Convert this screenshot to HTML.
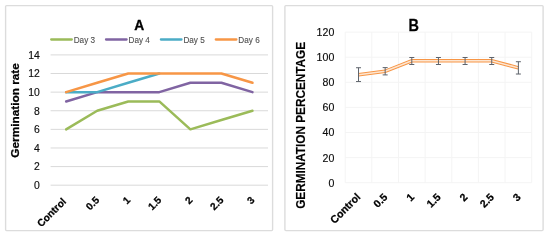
<!DOCTYPE html>
<html><head><meta charset="utf-8"><title>Germination charts</title>
<style>
html,body{margin:0;padding:0;background:#fff;}
body{width:550px;height:240px;overflow:hidden;}
svg{display:block;font-family:"Liberation Sans",sans-serif;}
.tick{font-size:10.4px;fill:#0d0d0d;stroke:#0d0d0d;stroke-width:0.15px;}
.tickb{font-size:10.6px;fill:#0d0d0d;stroke:#0d0d0d;stroke-width:0.15px;}
.cat{font-size:10.1px;font-weight:bold;fill:#000;stroke:#000;stroke-width:0.25px;}
.leg{font-size:8.2px;fill:#505050;stroke:#505050;stroke-width:0.1px;}
.ttl{font-weight:bold;fill:#000;}
</style></head><body>
<svg width="550" height="240" viewBox="0 0 550 240">
<rect x="0" y="0" width="550" height="240" fill="#fff"/>

<rect x="5.6" y="5.6" width="267" height="225" rx="1" fill="#fff" stroke="#dcdcdc" stroke-width="1.4"/>
<rect x="284.9" y="5.6" width="258.2" height="225" rx="1" fill="#fff" stroke="#dcdcdc" stroke-width="1.4"/>
<g id="chartA">
<line x1="50.6" x2="268.0" y1="185.20" y2="185.20" stroke="#d9d9d9" stroke-width="1"/>
<text class="tick" x="39.9" y="189.10" text-anchor="end">0</text>
<line x1="50.6" x2="268.0" y1="166.59" y2="166.59" stroke="#d9d9d9" stroke-width="1"/>
<text class="tick" x="39.9" y="170.49" text-anchor="end">2</text>
<line x1="50.6" x2="268.0" y1="147.97" y2="147.97" stroke="#d9d9d9" stroke-width="1"/>
<text class="tick" x="39.9" y="151.87" text-anchor="end">4</text>
<line x1="50.6" x2="268.0" y1="129.36" y2="129.36" stroke="#d9d9d9" stroke-width="1"/>
<text class="tick" x="39.9" y="133.26" text-anchor="end">6</text>
<line x1="50.6" x2="268.0" y1="110.74" y2="110.74" stroke="#d9d9d9" stroke-width="1"/>
<text class="tick" x="39.9" y="114.64" text-anchor="end">8</text>
<line x1="50.6" x2="268.0" y1="92.13" y2="92.13" stroke="#d9d9d9" stroke-width="1"/>
<text class="tick" x="39.9" y="96.03" text-anchor="end">10</text>
<line x1="50.6" x2="268.0" y1="73.51" y2="73.51" stroke="#d9d9d9" stroke-width="1"/>
<text class="tick" x="39.9" y="77.41" text-anchor="end">12</text>
<line x1="50.6" x2="268.0" y1="54.90" y2="54.90" stroke="#d9d9d9" stroke-width="1"/>
<text class="tick" x="39.9" y="58.80" text-anchor="end">14</text>
<polyline points="66.13,129.36 97.19,110.74 128.24,101.44 159.30,101.44 190.36,129.36 221.41,120.05 252.47,110.74" fill="none" stroke="#9BBB59" stroke-width="2.5" stroke-linecap="round" stroke-linejoin="round"/>
<polyline points="66.13,101.44 97.19,92.13 128.24,92.13 159.30,92.13 190.36,82.82 221.41,82.82 252.47,92.13" fill="none" stroke="#8064A2" stroke-width="2.5" stroke-linecap="round" stroke-linejoin="round"/>
<polyline points="66.13,92.13 97.19,92.13 128.24,82.82 159.30,73.51" fill="none" stroke="#4BACC6" stroke-width="2.5" stroke-linecap="round" stroke-linejoin="round"/>
<polyline points="66.13,92.13 97.19,82.82 128.24,73.51 159.30,73.51 190.36,73.51 221.41,73.51 252.47,82.82" fill="none" stroke="#F79646" stroke-width="2.5" stroke-linecap="round" stroke-linejoin="round"/>
<line x1="51.199999999999996" x2="71.8" y1="39.5" y2="39.5" stroke="#9BBB59" stroke-width="2.3" stroke-linecap="round"/>
<text class="leg" x="73.7" y="42.8">Day 3</text>
<line x1="106.0" x2="126.6" y1="39.5" y2="39.5" stroke="#8064A2" stroke-width="2.3" stroke-linecap="round"/>
<text class="leg" x="128.5" y="42.8">Day 4</text>
<line x1="160.9" x2="181.5" y1="39.5" y2="39.5" stroke="#4BACC6" stroke-width="2.3" stroke-linecap="round"/>
<text class="leg" x="183.4" y="42.8">Day 5</text>
<line x1="215.8" x2="236.4" y1="39.5" y2="39.5" stroke="#F79646" stroke-width="2.3" stroke-linecap="round"/>
<text class="leg" x="238.3" y="42.8">Day 6</text>
<text class="ttl" x="139.3" y="30.3" font-size="13.8" stroke="#000" stroke-width="0.3" text-anchor="middle">A</text>
<text class="ttl" font-size="10.9" stroke="#000" stroke-width="0.25" text-anchor="middle" transform="translate(19.0,110.4) rotate(-90) scale(1,1.07)" textLength="94.5" lengthAdjust="spacingAndGlyphs">Germination rate</text>
<text class="cat" text-anchor="end" transform="translate(66.73,202.20) rotate(-45)">Control</text>
<text class="cat" text-anchor="end" transform="translate(99.99,200.70) rotate(-45)">0.5</text>
<text class="cat" text-anchor="end" transform="translate(131.04,200.70) rotate(-45)">1</text>
<text class="cat" text-anchor="end" transform="translate(162.10,200.70) rotate(-45)">1.5</text>
<text class="cat" text-anchor="end" transform="translate(193.16,200.70) rotate(-45)">2</text>
<text class="cat" text-anchor="end" transform="translate(224.21,200.70) rotate(-45)">2.5</text>
<text class="cat" text-anchor="end" transform="translate(255.27,200.70) rotate(-45)">3</text>
</g>
<g id="chartB">
<line x1="345.2" x2="531.7" y1="182.70" y2="182.70" stroke="#f4f4f4" stroke-width="1"/>
<text class="tickb" x="334.3" y="186.60" text-anchor="end">0</text>
<line x1="345.2" x2="531.7" y1="157.60" y2="157.60" stroke="#f4f4f4" stroke-width="1"/>
<text class="tickb" x="334.3" y="161.50" text-anchor="end">20</text>
<line x1="345.2" x2="531.7" y1="132.50" y2="132.50" stroke="#f4f4f4" stroke-width="1"/>
<text class="tickb" x="334.3" y="136.40" text-anchor="end">40</text>
<line x1="345.2" x2="531.7" y1="107.40" y2="107.40" stroke="#f4f4f4" stroke-width="1"/>
<text class="tickb" x="334.3" y="111.30" text-anchor="end">60</text>
<line x1="345.2" x2="531.7" y1="82.30" y2="82.30" stroke="#f4f4f4" stroke-width="1"/>
<text class="tickb" x="334.3" y="86.20" text-anchor="end">80</text>
<line x1="345.2" x2="531.7" y1="57.20" y2="57.20" stroke="#f4f4f4" stroke-width="1"/>
<text class="tickb" x="334.3" y="61.10" text-anchor="end">100</text>
<line x1="345.2" x2="531.7" y1="32.10" y2="32.10" stroke="#f4f4f4" stroke-width="1"/>
<text class="tickb" x="334.3" y="36.00" text-anchor="end">120</text>
<line x1="345.20" x2="345.20" y1="32.1" y2="182.7" stroke="#f4f4f4" stroke-width="1"/>
<line x1="371.84" x2="371.84" y1="32.1" y2="182.7" stroke="#f4f4f4" stroke-width="1"/>
<line x1="398.49" x2="398.49" y1="32.1" y2="182.7" stroke="#f4f4f4" stroke-width="1"/>
<line x1="425.13" x2="425.13" y1="32.1" y2="182.7" stroke="#f4f4f4" stroke-width="1"/>
<line x1="451.77" x2="451.77" y1="32.1" y2="182.7" stroke="#f4f4f4" stroke-width="1"/>
<line x1="478.41" x2="478.41" y1="32.1" y2="182.7" stroke="#f4f4f4" stroke-width="1"/>
<line x1="505.06" x2="505.06" y1="32.1" y2="182.7" stroke="#f4f4f4" stroke-width="1"/>
<line x1="531.70" x2="531.70" y1="32.1" y2="182.7" stroke="#f4f4f4" stroke-width="1"/>
<polyline points="358.52,74.64 385.16,71.26 411.81,60.75 438.45,60.75 465.09,60.75 491.74,60.75 518.38,67.87" fill="none" stroke="#F79646" stroke-width="3.5" stroke-linejoin="miter"/>
<polyline points="358.52,74.64 385.16,71.26 411.81,60.75 438.45,60.75 465.09,60.75 491.74,60.75 518.38,67.87" fill="none" stroke="#fde6d2" stroke-width="1.5" stroke-linejoin="miter"/>
<path d="M358.52 67.74V81.55M356.02 67.74h5M356.02 81.55h5" fill="none" stroke="#5e636b" stroke-width="1"/>
<path d="M385.16 67.62V74.90M382.66 67.62h5M382.66 74.90h5" fill="none" stroke="#5e636b" stroke-width="1"/>
<path d="M411.81 57.50V64.50M409.31 57.50h5M409.31 64.50h5" fill="none" stroke="#5e636b" stroke-width="1"/>
<path d="M438.45 57.50V64.50M435.95 57.50h5M435.95 64.50h5" fill="none" stroke="#5e636b" stroke-width="1"/>
<path d="M465.09 57.50V64.50M462.59 57.50h5M462.59 64.50h5" fill="none" stroke="#5e636b" stroke-width="1"/>
<path d="M491.74 57.50V64.50M489.24 57.50h5M489.24 64.50h5" fill="none" stroke="#5e636b" stroke-width="1"/>
<path d="M518.38 61.72V74.02M515.88 61.72h5M515.88 74.02h5" fill="none" stroke="#5e636b" stroke-width="1"/>
<text class="ttl" transform="translate(413.7,31.1) scale(0.87,1)" font-size="16.6" stroke="#000" stroke-width="0.25" text-anchor="middle">B</text>
<text class="ttl" font-size="11.78" stroke="#000" stroke-width="0.15" text-anchor="middle" transform="translate(305.3,125.35) rotate(-90) scale(1,1.08)">GERMINATION PERCENTAGE</text>
<text class="cat" style="font-size:10.6px" text-anchor="end" transform="translate(361.12,197.70) rotate(-45)">Control</text>
<text class="cat" style="font-size:10.6px" text-anchor="end" transform="translate(388.16,197.80) rotate(-45)">0.5</text>
<text class="cat" style="font-size:10.6px" text-anchor="end" transform="translate(414.81,197.80) rotate(-45)">1</text>
<text class="cat" style="font-size:10.6px" text-anchor="end" transform="translate(441.45,197.80) rotate(-45)">1.5</text>
<text class="cat" style="font-size:10.6px" text-anchor="end" transform="translate(468.09,197.80) rotate(-45)">2</text>
<text class="cat" style="font-size:10.6px" text-anchor="end" transform="translate(494.74,197.80) rotate(-45)">2.5</text>
<text class="cat" style="font-size:10.6px" text-anchor="end" transform="translate(521.38,197.80) rotate(-45)">3</text>
</g>
</svg></body></html>
